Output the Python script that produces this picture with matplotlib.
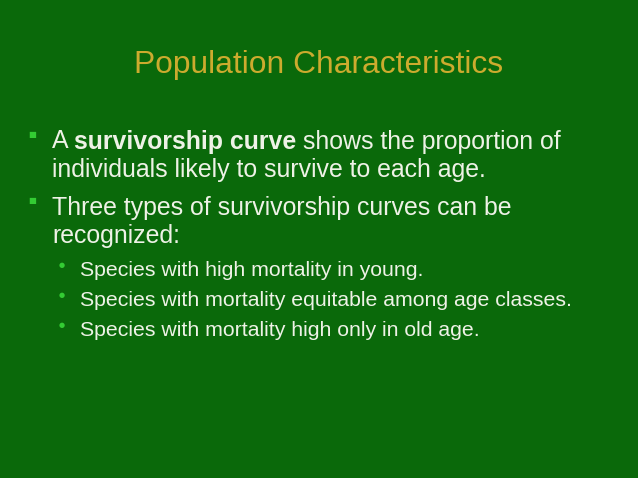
import matplotlib
matplotlib.use("Agg")
import matplotlib.pyplot as plt

plt.rcParams['font.family'] = ['Liberation Sans', 'DejaVu Sans']

W, H = 638, 478
BG = '#0a690a'
TITLE_COLOR = '#ccab2e'
TEXT_COLOR = '#eef2e6'
BULLET_COLOR = '#33cc33'

title = "Population Characteristics"

# first-level bullets: list of lines, each line a list of (text, bold) pieces
level1 = [
    [[("A ", False), ("survivorship curve", True), (" shows the proportion of", False)],
     [("individuals likely to survive to each age.", False)]],
    [[("Three types of survivorship curves can be", False)],
     [("recognized:", False)]],
]
level2 = [
    "Species with high mortality in young.",
    "Species with mortality equitable among age classes.",
    "Species with mortality high only in old age.",
]

fig = plt.figure(figsize=(W / 100, H / 100), dpi=100)
fig.patch.set_facecolor(BG)


def px(x, y):
    return x / W, 1 - y / H


fig.text(*px(319, 73), title, ha='center', va='baseline',
         fontsize=22.9, color=TITLE_COLOR)

# body paragraphs
baselines1 = [[148.5, 177.5], [214.5, 242.5]]
fig.canvas.draw()
renderer = fig.canvas.get_renderer()
for para, lines in zip(level1, baselines1):
    fig.text(*px(32.5, lines[0] - 14), "\u25a0", ha='center', va='center',
             fontsize=6, color=BULLET_COLOR, family='DejaVu Sans')
    for pieces, yb in zip(para, lines):
        x = 52
        for txt, bold in pieces:
            t = fig.text(*px(x, yb), txt, ha='left', va='baseline', fontsize=17.9,
                         color=TEXT_COLOR, fontweight='bold' if bold else 'normal')
            bb = t.get_window_extent(renderer=renderer)
            x += bb.width

# sub bullets
baselines2 = [276.5, 306, 336]
for txt, yb in zip(level2, baselines2):
    fig.text(*px(62, yb - 11.5), "\u25cf", ha='center', va='center',
             fontsize=5, color=BULLET_COLOR, family='DejaVu Sans')
    fig.text(*px(80, yb), txt, ha='left', va='baseline', fontsize=15.3,
             color=TEXT_COLOR)

fig.savefig("out.png", dpi=100, facecolor=BG)
